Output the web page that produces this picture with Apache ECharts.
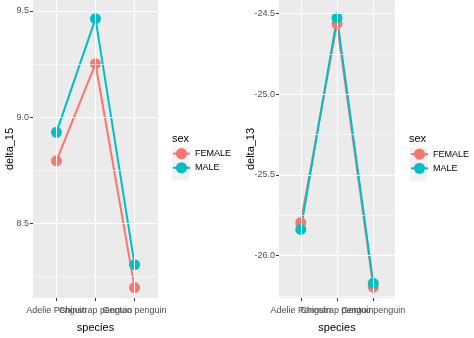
<!DOCTYPE html>
<html>
<head>
<meta charset="utf-8">
<script src="https://cdn.jsdelivr.net/npm/echarts@6/dist/echarts.min.js"></script>
<style>html,body{margin:0;padding:0;background:#fff}#c{width:474px;height:338px}</style>
</head>
<body>
<div id="c"></div>
<script>
const species = ['Adelie Penguin', 'Chinstrap penguin', 'Gentoo penguin'];
const sexes = ['FEMALE', 'MALE'];
const d15Female = [8.794, 9.251, 8.197];
const d15Male = [8.928, 9.463, 8.305];
const d13Female = [-25.795, -24.563, -26.196];
const d13Male = [-25.838, -24.526, -26.172];
const ticks15 = [8.5, 9.0, 9.5];
const minor15 = [8.25, 8.75, 9.25];
const ticks13 = [-26.0, -25.5, -25.0, -24.5];
const minor13 = [-26.25, -25.75, -25.25, -24.75];
const catPos = [1, 2, 3];

const colors = {FEMALE: '#F8766D', MALE: '#00BFC4'};
const FONT = 'Liberation Sans, Arial, sans-serif';

function pairs(vals) { return vals.map((v, i) => [catPos[i], v]); }

function gridSeries(idx, major, minor) {
  const data = [];
  minor.forEach(v => data.push({yAxis: v, lineStyle: {width: 0.6}}));
  major.forEach(v => data.push({yAxis: v, lineStyle: {width: 1.1}}));
  catPos.forEach(v => data.push({xAxis: v, lineStyle: {width: 1.1}}));
  return {
    type: 'line', xAxisIndex: idx, yAxisIndex: idx, data: [], silent: true, z: 1,
    markLine: {symbol: 'none', silent: true, animation: false, label: {show: false},
      lineStyle: {color: '#ffffff', type: 'solid'}, emphasis: {disabled: true}, data: data}
  };
}

function dataSeries(idx, name, vals) {
  return {
    type: 'line', name: name, xAxisIndex: idx, yAxisIndex: idx, data: pairs(vals),
    symbol: 'circle', symbolSize: 11, z: 3,
    itemStyle: {color: colors[name]}, lineStyle: {color: colors[name], width: 2},
    animation: false
  };
}

function xAx(idx) {
  return {
    type: 'value', gridIndex: idx, min: 0.4, max: 3.6, position: 'bottom',
    name: 'species', nameLocation: 'middle', nameGap: 24, nameMoveOverlap: false,
    nameTextStyle: {fontFamily: FONT, fontSize: 11, color: '#000'},
    axisLine: {show: false},
    axisTick: {show: true, length: 3, customValues: catPos, lineStyle: {color: '#333', width: 1}},
    axisLabel: {show: false},
    splitLine: {show: false}
  };
}

// one label-only axis per category so overlapping labels are all kept (as in the reference)
function labelAx(idx, k) {
  return {
    type: 'value', gridIndex: idx, min: 0.4, max: 3.6, position: 'bottom', offset: 0,
    axisLine: {show: false}, axisTick: {show: false}, splitLine: {show: false},
    axisLabel: {customValues: [catPos[k]], formatter: () => species[k], fontFamily: FONT, fontSize: 9,
      color: '#4D4D4D', margin: 8, showMinLabel: true, showMaxLabel: true}
  };
}

function yAx(idx, name, min, max, ticks, gap) {
  return {
    type: 'value', gridIndex: idx, min: min, max: max,
    name: name, nameLocation: 'middle', nameGap: gap, nameMoveOverlap: false,
    nameTextStyle: {fontFamily: FONT, fontSize: 11, color: '#000'},
    axisLine: {show: false},
    axisTick: {show: true, length: 3, customValues: ticks, lineStyle: {color: '#333', width: 1}},
    axisLabel: {customValues: ticks, formatter: v => v.toFixed(1), fontFamily: FONT, fontSize: 9, color: '#4D4D4D', margin: 4, showMinLabel: true, showMaxLabel: true},
    splitLine: {show: false}
  };
}

const chart = echarts.init(document.getElementById('c'), null, {renderer: 'canvas'});
chart.setOption({
  animation: false,
  backgroundColor: '#ffffff',
  grid: [
    {left: 33, right: 316, top: 0, bottom: 34, show: true, backgroundColor: '#EBEBEB', borderWidth: 0},
    {left: 279, right: 79, top: 0, bottom: 34, show: true, backgroundColor: '#EBEBEB', borderWidth: 0}
  ],
  xAxis: [xAx(0), xAx(1), labelAx(0, 0), labelAx(0, 1), labelAx(0, 2), labelAx(1, 0), labelAx(1, 1), labelAx(1, 2)],
  yAxis: [
    yAx(0, 'delta_15', 8.148, 9.551, ticks15, 18),
    yAx(1, 'delta_13', -26.263, -24.415, ticks13, 23)
  ],
  legend: [
    {data: sexes, orient: 'vertical', left: 172, top: 148, padding: 0, itemWidth: 17, itemHeight: 14, itemGap: 3,
     textStyle: {fontFamily: FONT, fontSize: 9, color: '#000'}, selectedMode: false},
    {data: sexes, orient: 'vertical', left: 410, top: 148.5, padding: 0, itemWidth: 17, itemHeight: 14, itemGap: 3,
     textStyle: {fontFamily: FONT, fontSize: 9, color: '#000'}, selectedMode: false}
  ],
  graphic: [
    {type: 'rect', shape: {x: 172, y: 146.5, width: 17, height: 34}, style: {fill: '#F2F2F2'}, z: 0, silent: true},
    {type: 'rect', shape: {x: 410, y: 147, width: 17, height: 34}, style: {fill: '#F2F2F2'}, z: 0, silent: true},
    {type: 'text', left: 172, top: 133, style: {text: 'sex', fontFamily: FONT, fontSize: 11, fill: '#000'}, z: 5},
    {type: 'text', left: 409, top: 133, style: {text: 'sex', fontFamily: FONT, fontSize: 11, fill: '#000'}, z: 5}
  ],
  series: [
    gridSeries(0, ticks15, minor15),
    gridSeries(1, ticks13, minor13),
    dataSeries(0, 'FEMALE', d15Female),
    dataSeries(0, 'MALE', d15Male),
    dataSeries(1, 'FEMALE', d13Female),
    dataSeries(1, 'MALE', d13Male)
  ]
});
</script>
</body>
</html>
